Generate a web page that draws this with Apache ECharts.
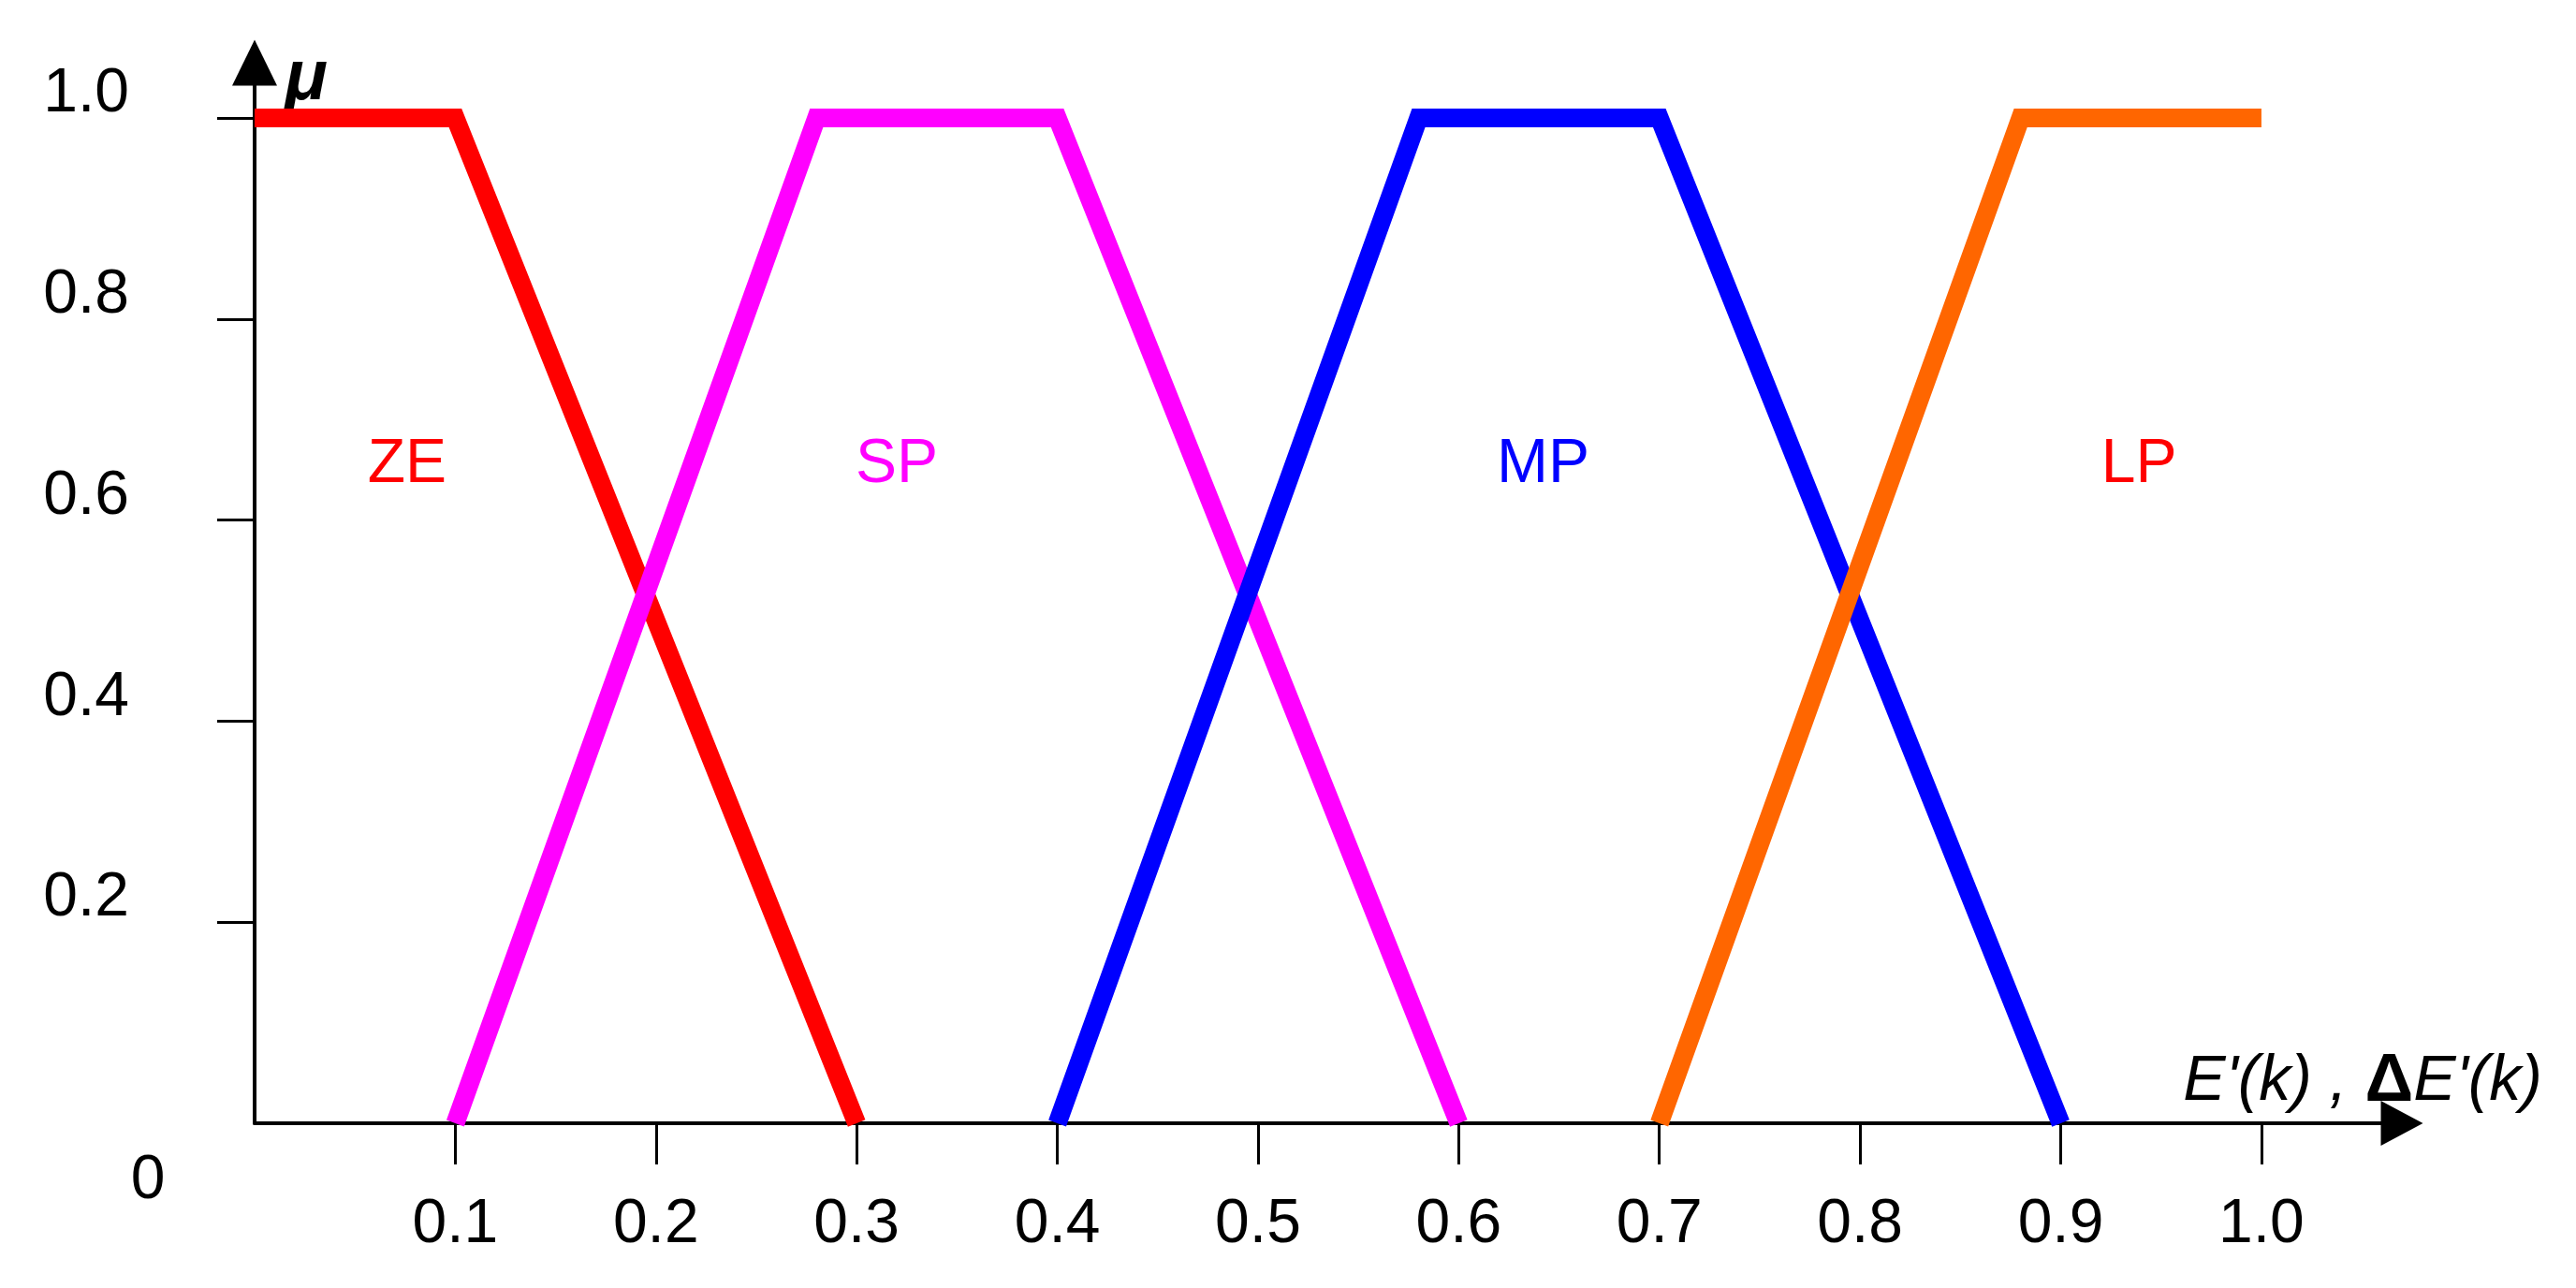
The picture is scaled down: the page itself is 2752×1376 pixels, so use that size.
<!DOCTYPE html>
<html>
<head>
<meta charset="utf-8">
<script src="https://cdn.jsdelivr.net/npm/echarts@6/dist/echarts.min.js"></script>
<style>
  html, body { margin: 0; padding: 0; background: #fff; }
  #main { width: 2752px; height: 1376px; }
</style>
</head>
<body>
<div id="main"></div>
<script>
// membership functions (x, mu)
const zeData = [[0, 1], [0.1, 1], [0.3, 0]];
const spData = [[0.1, 0], [0.28, 1], [0.4, 1], [0.6, 0]];
const mpData = [[0.4, 0], [0.58, 1], [0.7, 1], [0.9, 0]];
const lpData = [[0.7, 0], [0.88, 1], [1.0, 1]];

const setNames = ['ZE', 'SP', 'MP', 'LP'];
const setLabelX = [0.076, 0.32, 0.642, 0.939];
const setLabelY = 0.655;

const xTicks = [0.1, 0.2, 0.3, 0.4, 0.5, 0.6, 0.7, 0.8, 0.9, 1.0];
const yTicks = [0.2, 0.4, 0.6, 0.8, 1.0];

const FONT = '"Liberation Sans", Arial, sans-serif';
const colors = ['#ff0000', '#ff00ff', '#0000ff', '#ff6600'];
const labelColors = ['#ff0000', '#ff00ff', '#0000ff', '#ff0000'];

var myChart = echarts.init(document.getElementById('main'));

function lineSeries(data, i) {
  return {
    type: 'line',
    data: data,
    symbol: 'none',
    silent: true,
    lineStyle: { color: colors[i], width: 20, cap: 'butt', join: 'miter' },
    markPoint: {
      symbol: 'circle',
      symbolSize: 0,
      data: [{ coord: [setLabelX[i], setLabelY], value: setNames[i] }],
      label: {
        show: true,
        position: 'inside',
        formatter: setNames[i],
        color: labelColors[i],
        fontFamily: FONT,
        fontSize: 66
      }
    }
  };
}

var option = {
  animation: false,
  backgroundColor: '#fff',
  grid: { left: 272, right: 186, top: 67, bottom: 176, outerBoundsMode: 'none', containLabel: false },
  xAxis: {
    type: 'value',
    min: 0,
    max: 1.07,
    name: "{i|E'(k) , }{d|Δ}{i|E'(k)}",
    nameLocation: 'end',
    nameGap: 150,
    nameTextStyle: {
      align: 'right',
      verticalAlign: 'bottom',
      padding: [0, 0, 8, 0],
      rich: {
        i: { fontFamily: FONT, fontStyle: 'italic', fontSize: 68, color: '#000' },
        d: { fontFamily: FONT, fontWeight: 'bold', fontSize: 72, color: '#000' }
      }
    },
    splitLine: { show: false },
    axisLine: {
      show: true,
      lineStyle: { color: '#000', width: 4 },
      symbol: ['none', 'triangle'],
      symbolSize: [48, 45]
    },
    axisTick: { show: true, length: 44, lineStyle: { color: '#000', width: 3 }, customValues: xTicks },
    axisLabel: {
      customValues: xTicks,
      margin: 76,
      fontFamily: FONT,
      fontSize: 66,
      color: '#000',
      formatter: function (v) { return v.toFixed(1); }
    }
  },
  yAxis: {
    type: 'value',
    min: 0,
    max: 1.055,
    name: 'μ',
    nameLocation: 'end',
    nameGap: -18,
    nameTextStyle: {
      align: 'left',
      verticalAlign: 'middle',
      padding: [0, 0, 0, 32],
      fontFamily: FONT,
      fontStyle: 'italic',
      fontWeight: 'bold',
      fontSize: 76,
      color: '#000'
    },
    splitLine: { show: false },
    axisLine: {
      show: true,
      lineStyle: { color: '#000', width: 4 },
      symbol: ['none', 'triangle'],
      symbolSize: [48, 49]
    },
    axisTick: { show: true, length: 40, lineStyle: { color: '#000', width: 3 }, customValues: yTicks },
    axisLabel: {
      customValues: yTicks,
      margin: 134,
      verticalAlign: 'bottom',
      lineHeight: 50,
      fontFamily: FONT,
      fontSize: 66,
      color: '#000',
      formatter: function (v) { return v.toFixed(1); }
    }
  },
  series: [
    lineSeries(zeData, 0),
    lineSeries(spData, 1),
    lineSeries(mpData, 2),
    lineSeries(lpData, 3)
  ]
};

myChart.setOption(option);

// the lone "0" sits below-left of the origin
var origin = myChart.convertToPixel({ gridIndex: 0 }, [0, 0]);
myChart.setOption({
  graphic: [{
    type: 'text',
    x: origin[0] - 114,
    y: origin[1] + 62,
    style: {
      text: '0',
      fontFamily: FONT,
      fontSize: 66,
      fill: '#000',
      align: 'center',
      verticalAlign: 'middle'
    }
  }]
});
</script>
</body>
</html>
